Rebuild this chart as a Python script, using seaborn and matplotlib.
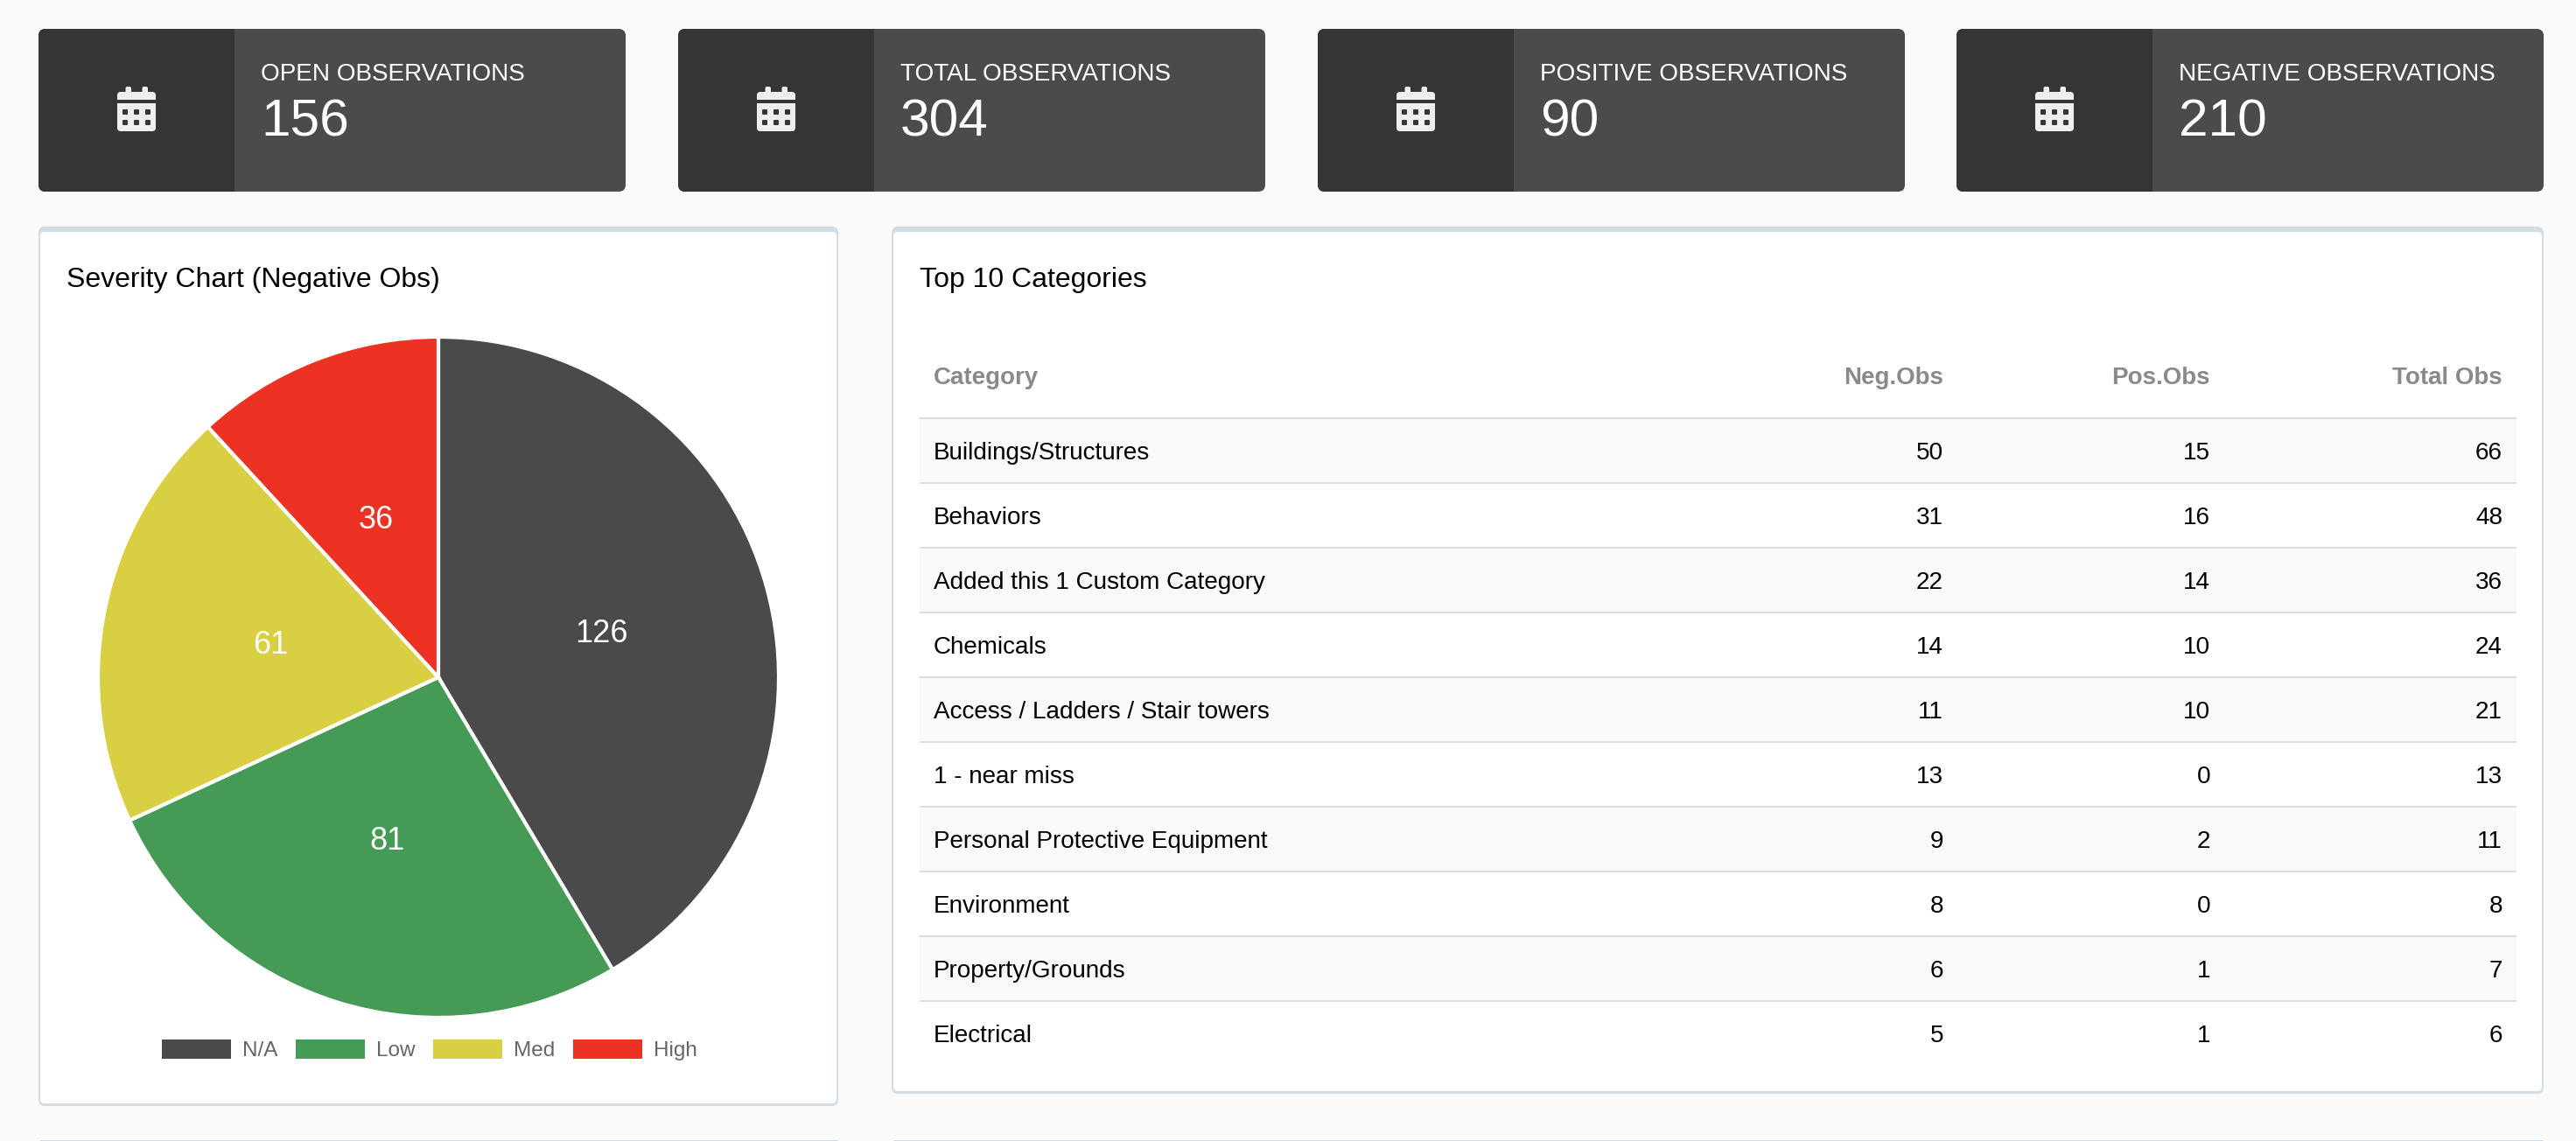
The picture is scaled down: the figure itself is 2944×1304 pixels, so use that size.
import matplotlib
matplotlib.use("Agg")
import matplotlib.pyplot as plt
from matplotlib.patches import FancyBboxPatch, Patch, Rectangle
import seaborn as sns

# Dashboard figures
kpi_labels = ["OPEN OBSERVATIONS", "TOTAL OBSERVATIONS", "POSITIVE OBSERVATIONS", "NEGATIVE OBSERVATIONS"]
kpi_values = [156, 304, 90, 210]

severity_labels = ["N/A", "Low", "Med", "High"]
severity_values = [126, 81, 61, 36]
severity_colors = ["#4a4a4a", "#459a55", "#d9cf42", "#ec3323"]

table_headers = ["Category", "Neg.Obs", "Pos.Obs", "Total Obs"]
categories = ["Buildings/Structures", "Behaviors", "Added this 1 Custom Category", "Chemicals",
              "Access / Ladders / Stair towers", "1 - near miss", "Personal Protective Equipment",
              "Environment", "Property/Grounds", "Electrical"]
neg_obs = [50, 31, 22, 14, 11, 13, 9, 8, 6, 5]
pos_obs = [15, 16, 14, 10, 10, 0, 2, 0, 1, 1]
total_obs = [66, 48, 36, 24, 21, 13, 11, 8, 7, 6]

W, H = 2944, 1304
PAGE = "#fafafa"
BORDER = "#d2dce5"
RULE = "#dddddd"

sns.set_theme(style="white")
plt.rcParams["font.family"] = ["Liberation Sans", "DejaVu Sans"]

fig = plt.figure(figsize=(W / 100, H / 100), dpi=100, facecolor=PAGE)
page = fig.add_axes([0, 0, 1, 1])
page.set_xlim(0, W)
page.set_ylim(H, 0)
page.axis("off")


def rounded(x0, y0, x1, y1, r, color, z=1):
    patch = FancyBboxPatch((x0 + r, y0 + r), x1 - x0 - 2 * r, y1 - y0 - 2 * r,
                           boxstyle=f"round,pad={r},rounding_size={r}",
                           facecolor=color, edgecolor="none", zorder=z)
    page.add_patch(patch)
    return patch


def calendar_icon(cx, color="#eeeeee", bg="#353535"):
    left, right = cx - 22, cx + 22
    rounded(left, 105, right, 150, 4, color, 4)
    page.add_patch(Rectangle((left, 114), 44, 3.5, facecolor=bg, edgecolor="none", zorder=5))
    for dx in (-12.5, 6.5):
        rounded(cx + dx, 99, cx + dx + 6.5, 110, 2, color, 4)
    for dy in (125, 137):
        for dx in (-16, -3, 10):
            rounded(cx + dx, dy, cx + dx + 6, dy + 6, 1, bg, 5)


# Summary cards across the top
card_lefts = [44, 775, 1506, 2236]
for left, label, value in zip(card_lefts, kpi_labels, kpi_values):
    right = left + 671
    card = rounded(left, 33, right, 219, 8, "#4b4b4b", 1)
    icon_bg = Rectangle((left, 33), 224, 186, facecolor="#353535", edgecolor="none", zorder=2)
    page.add_patch(icon_bg)
    icon_bg.set_clip_path(card)
    calendar_icon(left + 112)
    page.text(left + 254, 85, label, color="white", fontsize=20.05, va="center", ha="left", zorder=6)
    page.text(left + 254, 140, str(value), color="white", fontsize=43.5, va="center", ha="left", zorder=6)


def panel(x0, y0, x1, y1):
    rounded(x0, y0, x1, y1, 7, BORDER, 1)
    rounded(x0 + 2, y0 + 6, x1 - 2, y1 - 3, 5, "white", 2)


panel(44, 259, 958, 1264)
panel(1019, 259, 2907, 1250)

# Start of the next row of panels at the bottom edge
page.add_patch(Rectangle((46, 1302.5), 912, 2, facecolor=BORDER, edgecolor="none"))
page.add_patch(Rectangle((1021, 1302.5), 1886, 2, facecolor=BORDER, edgecolor="none"))

page.text(76, 320, "Severity Chart (Negative Obs)", color="black", fontsize=23, va="center", ha="left", zorder=6)
page.text(1051, 320, "Top 10 Categories", color="black", fontsize=23, va="center", ha="left", zorder=6)

# Severity pie, clockwise from twelve o'clock
cx, cy, radius = 501, 774, 389
pie_ax = fig.add_axes([(cx - radius) / W, 1 - (cy + radius) / H, 2 * radius / W, 2 * radius / H])
_, _, value_texts = pie_ax.pie(
    severity_values, colors=sns.color_palette(severity_colors), startangle=90, counterclock=False,
    radius=1.0, autopct=lambda pct: f"{pct * sum(severity_values) / 100:.0f}", pctdistance=0.5,
    wedgeprops={"edgecolor": "white", "linewidth": 3},
    textprops={"color": "white", "fontsize": 26, "family": ["Liberation Sans"]})
for value_text in value_texts:
    # Nudge the value labels so the digits sit optically centred in each slice
    x, y = value_text.get_position()
    value_text.set_position((x - 0.002, y - 0.005))
pie_ax.set_xlim(-1, 1)
pie_ax.set_ylim(-1, 1)

handles = [Patch(facecolor=c, edgecolor="none", label=l) for c, l in zip(severity_colors, severity_labels)]
page.legend(handles=handles, ncols=4, frameon=False, fontsize=17.5, labelcolor="#666666",
            loc="center", bbox_to_anchor=(491 / W, 1 - 1200 / H), bbox_transform=fig.transFigure,
            handlelength=3.25, handleheight=1.0, handletextpad=0.54, columnspacing=0.85, borderpad=0,
            borderaxespad=0)

# Top categories table
TABLE_L, TABLE_R = 1051, 2876
col_right = [None, 2221, 2526, 2860]
TEXT_L = 1067
HEADER_RULE = 478
ROW_H = 74

page.text(TEXT_L, 432, table_headers[0], color="#8a8a8a", fontsize=20, fontweight="bold", va="center", ha="left", zorder=6)
for head, xr in zip(table_headers[1:], col_right[1:]):
    page.text(xr, 432, head, color="#8a8a8a", fontsize=20, fontweight="bold", va="center", ha="right", zorder=6)

for i, (name, neg, pos, tot) in enumerate(zip(categories, neg_obs, pos_obs, total_obs)):
    top = HEADER_RULE + i * ROW_H
    if i % 2 == 0:
        page.add_patch(Rectangle((TABLE_L, top), TABLE_R - TABLE_L, ROW_H, facecolor="#f9f9f9", edgecolor="none", zorder=3))
    page.add_patch(Rectangle((TABLE_L, top - 1), TABLE_R - TABLE_L, 2, facecolor=RULE, edgecolor="none", zorder=4))
    mid = top + ROW_H / 2 + 3
    page.text(TEXT_L, mid, name, color="black", fontsize=20.1, va="center", ha="left", zorder=6)
    for val, xr in zip((neg, pos, tot), col_right[1:]):
        page.text(xr, mid, str(val), color="black", fontsize=20.1, va="center", ha="right", zorder=6)

fig.savefig("out.png", dpi=100, facecolor=PAGE)
